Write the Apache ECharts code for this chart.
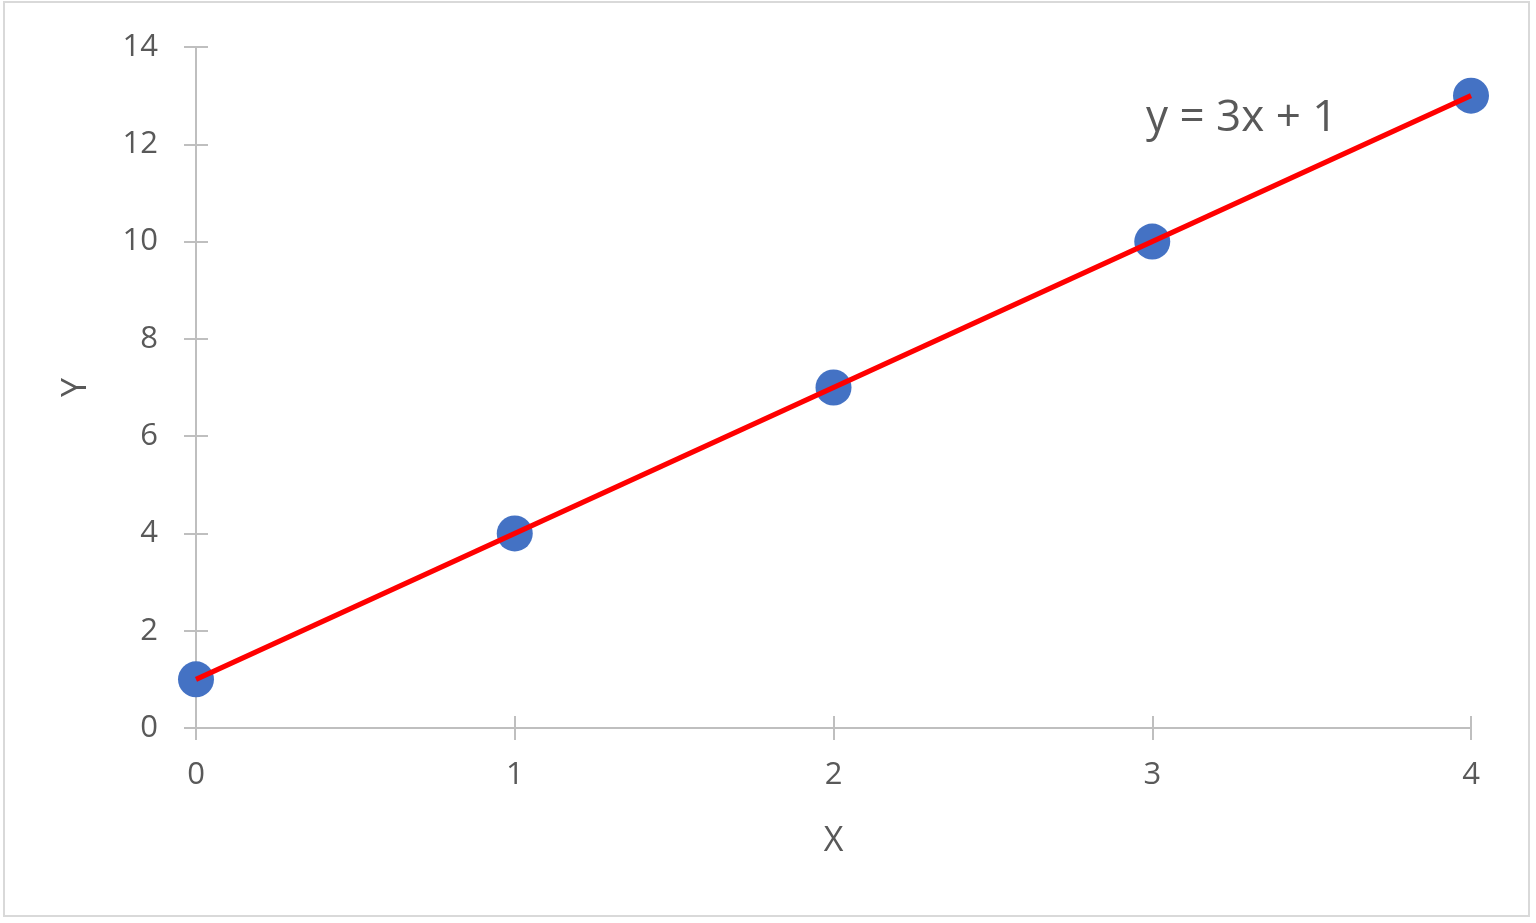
<!DOCTYPE html>
<html><head><meta charset="utf-8">
<script src="https://cdn.jsdelivr.net/npm/echarts@6/dist/echarts.min.js"></script>
<style>html,body{margin:0;padding:0;background:#fff}#c{width:1536px;height:923px}</style>
</head><body><div id="c"></div>
<script>
const xValues = [0, 1, 2, 3, 4];
const yValues = [1, 4, 7, 10, 13];
const trendX = [0, 4];
const trendY = [1, 13];
const equationText = 'y = 3x + 1';

const font = '"Open Sans", "Liberation Sans", sans-serif';
const axisCol = '#bfbfbf';
const txtCol = '#595959';
const chart = echarts.init(document.getElementById('c'));
function xAx(inside) {
  return {
    type: 'value', min: 0, max: 4, interval: 1,
    name: inside ? '' : 'X', nameLocation: 'middle', nameGap: 96,
    nameTextStyle: {color: txtCol, fontSize: 34, fontFamily: font},
    axisLine: {show: !inside, lineStyle: {color: axisCol, width: 2}},
    axisTick: {show: true, inside: inside, length: 12, lineStyle: {color: axisCol, width: 2}},
    axisLabel: {show: !inside, color: txtCol, fontSize: 31, fontFamily: font, margin: 32},
    splitLine: {show: false}
  };
}
function yAx(inside) {
  return {
    type: 'value', min: 0, max: 14, interval: 2,
    name: inside ? '' : 'Y', nameLocation: 'middle', nameGap: 103, nameRotate: 90,
    nameTextStyle: {color: txtCol, fontSize: 34, fontFamily: font},
    axisLine: {show: !inside, lineStyle: {color: axisCol, width: 2}},
    axisTick: {show: true, inside: inside, length: 12, lineStyle: {color: axisCol, width: 2}},
    axisLabel: {show: !inside, color: txtCol, fontSize: 31, fontFamily: font, margin: 38},
    splitLine: {show: false}
  };
}
chart.setOption({
  animation: false,
  backgroundColor: '#fff',
  grid: {left: 196, right: 65, top: 47, bottom: 195},
  xAxis: [xAx(false), Object.assign(xAx(true), {position: 'bottom'})],
  yAxis: [yAx(false), Object.assign(yAx(true), {position: 'left'})],
  graphic: [
    {type: 'rect', shape: {x: 4, y: 2, width: 1525, height: 914}, style: {fill: 'none', stroke: '#d9d9d9', lineWidth: 2}, z: -1},
    {type: 'text', left: 1146, top: 96, style: {text: equationText, fill: txtCol, fontSize: 44, fontFamily: font}}
  ],
  series: [
    {
      type: 'scatter', data: xValues.map((x, i) => [x, yValues[i]]),
      symbolSize: 36, itemStyle: {color: '#4472C4', opacity: 1}, z: 2
    },
    {
      type: 'line', data: trendX.map((x, i) => [x, trendY[i]]),
      symbol: 'none', lineStyle: {color: '#ff0000', width: 5}, z: 3
    }
  ]
});
</script></body></html>
